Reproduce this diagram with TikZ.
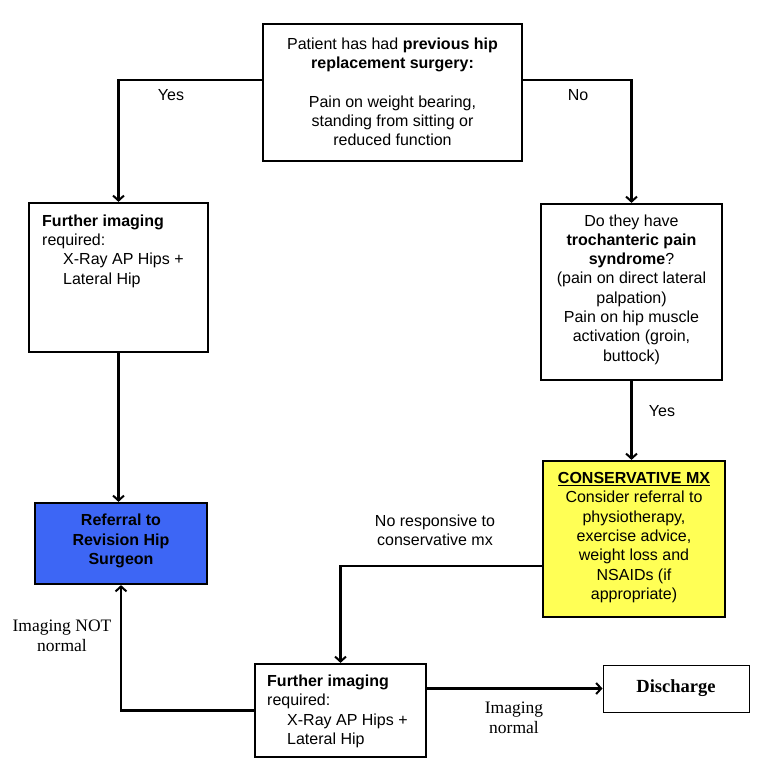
\documentclass[tikz,border=0pt]{standalone}
\usepackage{fontspec}
\setmainfont{Liberation Sans}
\newfontfamily\labserif{Liberation Serif}
\usetikzlibrary{arrows.meta}
\definecolor{refblue}{HTML}{3D66F5}
\definecolor{refyellow}{HTML}{FFFF55}
\begin{document}
\begin{tikzpicture}[x=1pt,y=-1pt,
  box/.style={draw, line width=2.2pt, inner sep=0pt, fill=white},
  txt/.style={font=\fontsize{16}{19.3}\selectfont, align=center, inner sep=0pt},
  ltxt/.style={font=\fontsize{16}{19.3}\selectfont, align=left, inner sep=0pt},
  slab/.style={font=\labserif\fontsize{17.5}{20}\selectfont, align=center, inner sep=0pt},
  conn/.style={line width=2.2pt, -{Straight Barb[length=5pt,width=11pt,line width=2pt]}}]
\useasboundingbox (0,0) rectangle (768,772);

% boxes
\node[box, minimum width=259pt, minimum height=137pt] (top) at (392.5,92.5) {};
\node[box, minimum width=179pt, minimum height=149pt] (left) at (118.5,277.5) {};
\node[box, minimum width=181pt, minimum height=176pt] (right) at (631.5,292) {};
\node[box, fill=refblue, minimum width=172pt, minimum height=81pt] (blue) at (121,543.5) {};
\node[box, fill=refyellow, minimum width=182pt, minimum height=156pt] (yellow) at (634,539) {};
\node[box, minimum width=171pt, minimum height=93pt] (bottom) at (340.5,710.5) {};
\node[draw, line width=1pt, inner sep=0pt, minimum width=146pt, minimum height=47pt,
      font=\labserif\bfseries\fontsize{18.5}{20}\selectfont] (discharge) at (676,688.5) {Discharge};

% box texts
\node[txt] (toptext) at (392.5,92) {Patient has had \textbf{previous hip}\\\textbf{replacement surgery:}\\[19.3pt]Pain on weight bearing,\\standing from sitting or\\reduced function};
\node[ltxt, anchor=west] (lefttext) at (42,251) {\textbf{Further imaging}\\required:\\\hspace*{21pt}X-Ray AP Hips +\\\hspace*{21pt}Lateral Hip};
\node[txt] (righttext) at (631.5,289.5) {Do they have\\\textbf{trochanteric pain}\\\textbf{syndrome}?\\(pain on direct lateral\\palpation)\\Pain on hip muscle\\activation (groin,\\buttock)};
\node[txt, font=\bfseries\fontsize{16}{19.3}\selectfont] (bluetext) at (121,541) {Referral to\\Revision Hip\\Surgeon};
\node[txt] (yellowtext) at (634,537.5) {\textbf{\underline{CONSERVATIVE MX}}\\Consider referral to\\physiotherapy,\\exercise advice,\\weight loss and\\NSAIDs (if\\appropriate)};
\node[ltxt, anchor=west] (bottomtext) at (267,711.5) {\textbf{Further imaging}\\required:\\\hspace*{20pt}X-Ray AP Hips +\\\hspace*{20pt}Lateral Hip};

% connectors
\draw[conn] ([yshift=12.5pt]top.west) -| (left.north);
\draw[conn] ([yshift=12.5pt]top.east) -| (right.north);
\draw[conn] (left.south) -- (left.south |- blue.north);
\draw[conn] (right.south) -- (right.south |- yellow.north);
\draw[conn] ([yshift=-27pt]yellow.west) -| (bottom.north);
\draw[conn] (bottom.west) -| (blue.south);
\draw[conn] (discharge.west -| bottom.east) -- (discharge.west);

% labels
\node[txt] (lyes) at (171,95) {Yes};
\node[txt] (lno) at (578,95) {No};
\node[txt] (ryes) at (662,411) {Yes};
\node[txt] (lnoresp) at (435,530) {No responsive to\\conservative mx};
\node[slab] (lnotnormal) at (62,636) {Imaging NOT\\normal};
\node[slab] (lnormal) at (514,718) {Imaging\\normal};
\end{tikzpicture}
\end{document}
